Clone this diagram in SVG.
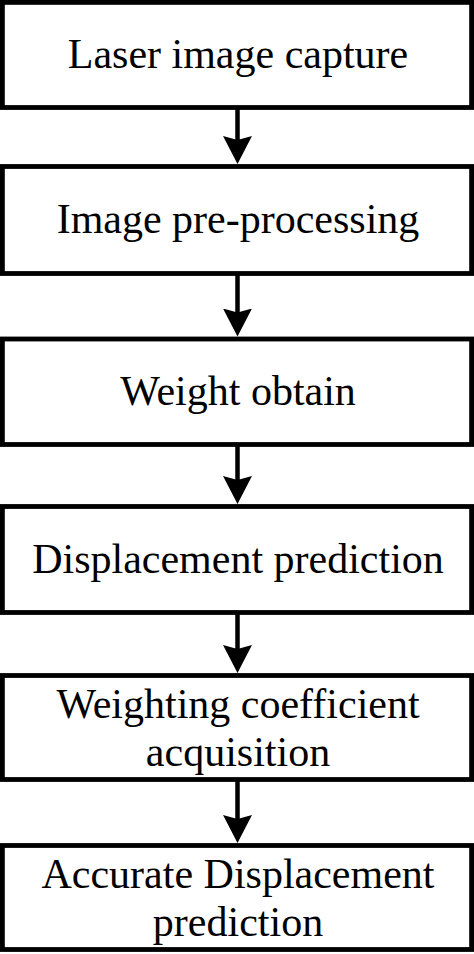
<svg xmlns="http://www.w3.org/2000/svg" width="474" height="954" viewBox="0 0 474 954">
<style>
.box{fill:#fff;stroke:#000;stroke-width:4.8}
.t{font-family:"Liberation Serif","Times New Roman",serif;font-size:42px;fill:#000;text-anchor:middle}
.c{stroke:#000;stroke-width:4.5;fill:none}
</style>
<defs>
<marker id="ah" viewBox="0 0 30 30" refX="18" refY="15" markerWidth="30" markerHeight="30" markerUnits="userSpaceOnUse" orient="auto">
<path d="M0,0.5 L28,15 L0,29.5 L4,15 Z" fill="#000"/>
</marker>
</defs>
<rect width="474" height="954" fill="#fff"/>
<g id="connectors">
<line class="c" x1="237.5" y1="107.5" x2="237.5" y2="154" marker-end="url(#ah)"/>
<line class="c" x1="237.5" y1="273.5" x2="237.5" y2="326.5" marker-end="url(#ah)"/>
<line class="c" x1="237.5" y1="444.5" x2="237.5" y2="494" marker-end="url(#ah)"/>
<line class="c" x1="237.5" y1="612.5" x2="237.5" y2="663" marker-end="url(#ah)"/>
<line class="c" x1="237.5" y1="779.5" x2="237.5" y2="833" marker-end="url(#ah)"/>
</g>
<g id="n1"><rect class="box" x="2.4" y="2.4" width="469.2" height="105.1"/><text class="t" x="238" y="68">Laser image capture</text></g>
<g id="n2"><rect class="box" x="2.4" y="166.5" width="469.2" height="107"/><text class="t" x="238" y="233">Image pre-processing</text></g>
<g id="n3"><rect class="box" x="2.4" y="339" width="469.2" height="105.5"/><text class="t" x="238" y="405">Weight obtain</text></g>
<g id="n4"><rect class="box" x="2.4" y="506.5" width="469.2" height="106"/><text class="t" x="238" y="573">Displacement prediction</text></g>
<g id="n5"><rect class="box" x="2.4" y="675.5" width="469.2" height="104"/><text class="t" x="238" y="718">Weighting coefficient</text><text class="t" x="238" y="766">acquisition</text></g>
<g id="n6"><rect class="box" x="2.4" y="845.5" width="469.2" height="104"/><text class="t" x="238" y="888">Accurate Displacement</text><text class="t" x="238" y="936">prediction</text></g>
</svg>
